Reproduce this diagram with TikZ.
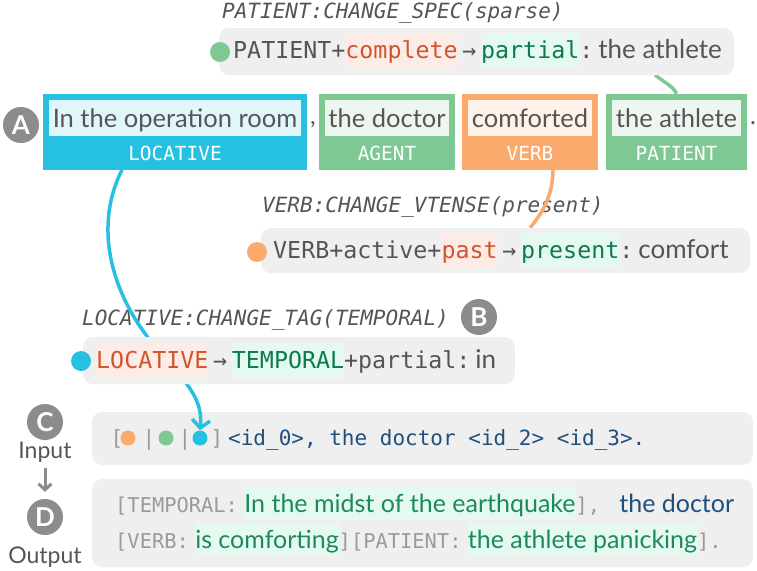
\documentclass[tikz,border=0pt]{standalone}
\usepackage{fontspec}
\setmainfont{Lato}
\setmonofont{DejaVu Sans Mono}
\usetikzlibrary{arrows.meta}

\definecolor{locc}{HTML}{26C1E1}
\definecolor{agentc}{HTML}{7EC894}
\definecolor{verbc}{HTML}{F9AA6C}
\definecolor{boxgray}{HTML}{EFEFEF}
\definecolor{txtgray}{HTML}{555555}
\definecolor{badgegray}{HTML}{8C8C8C}
\definecolor{oldred}{HTML}{D1542E}
\definecolor{oldbg}{HTML}{FDECE6}
\definecolor{newgreen}{HTML}{0E7A52}
\definecolor{newbg}{HTML}{E4F9EF}
\definecolor{outgreen}{HTML}{1E8A5C}
\definecolor{idblue}{HTML}{1E4F7D}
\definecolor{brkgray}{HTML}{9A9A9A}

% highlighted pieces of text
\newcommand{\hl}[3]{{\setlength{\fboxsep}{0pt}\colorbox{#1}{\rule[-10pt]{0pt}{35pt}\textcolor{#2}{#3}}}}
\newcommand{\hlo}[1]{{\setlength{\fboxsep}{0pt}\colorbox{newbg}{\rule[-8pt]{0pt}{33pt}\textcolor{outgreen}{#1}}}}
\newcommand{\brk}[1]{{\fontsize{20.4}{25}\selectfont\ttfamily\color{brkgray}#1}}
\newcommand{\sans}[1]{{\fontsize{26}{30}\selectfont\rmfamily #1}}
\newcommand{\toarr}{\makebox[23.5pt]{→}}

\pgfdeclarelayer{back}
\pgfdeclarelayer{lines}
\pgfsetlayers{back,lines,main}

\tikzset{
  grybox/.style={fill=boxgray, rounded corners=10pt, inner sep=0pt},
  spec/.style={anchor=base west, inner sep=0pt, text=txtgray, font=\fontsize{23.3}{28}\selectfont\ttfamily},
  optitle/.style={anchor=base west, inner sep=0pt, text=txtgray, font=\fontsize{21}{25}\selectfont\ttfamily\itshape},
  rolebox/.style={inner sep=0pt, minimum height=76pt},
  tokbox/.style={inner sep=0pt, minimum height=36pt, text height=20pt, text depth=2pt, text=txtgray, font=\fontsize{25.5}{30}\selectfont},
  rolelab/.style={anchor=base, inner sep=0pt, text=white, font=\fontsize{19.4}{22}\selectfont\ttfamily},
  badge/.style={circle, fill=badgegray, text=white, minimum size=36pt, inner sep=0pt, font=\fontsize{26}{26}\selectfont\bfseries},
  dot/.style={circle, inner sep=0pt, minimum size=20pt},
  indot/.style={circle, inner sep=0pt, minimum size=15pt},
  intxt/.style={anchor=base west, inner sep=0pt, font=\fontsize{21}{25}\selectfont\ttfamily},
  outtxt/.style={anchor=base west, inner sep=0pt, font=\fontsize{25}{30}\selectfont},
  sidelab/.style={anchor=base, inner sep=0pt, text=txtgray, font=\fontsize{23}{28}\selectfont},
  conn/.style={line width=3.5pt}
}

\begin{document}
\begin{tikzpicture}[x=1pt, y=-1pt]
\useasboundingbox (0,0) rectangle (757,570);

% A: the sentence with its roles
\node[badge] (A) at (21,125) {A};
\foreach \nm/\xl/\xr/\col/\tok/\lab in {loc/43/307/locc/In the operation room/LOCATIVE,
    agent/319/455/agentc/the doctor/AGENT, verb/462/598/verbc/comforted/VERB,
    pat/606/747/agentc/the athlete/PATIENT}{
  \pgfmathsetmacro\w{\xr-\xl}
  \pgfmathsetmacro\wi{\xr-\xl-12}
  \pgfmathsetmacro\m{(\xl+\xr)/2}
  \node[rolebox, fill=\col, minimum width=\w pt] (\nm) at (\m,132) {};
  \node[tokbox, fill=\col!14, minimum width=\wi pt] (\nm tok) at (\m,118) {\tok};
  \node[rolelab] (\nm lab) at (\m,160) {\lab};
}
\node[sidelab, font=\fontsize{25}{30}\selectfont] (comma) at (313,124) {,};
\node[sidelab, font=\fontsize{25}{30}\selectfont] (stop) at (753,124) {.};

% the three perturbations
\begin{pgfonlayer}{back}
  \node[optitle] (op1) at (222,18) {PATIENT:CHANGE\_SPEC(sparse)};
  \node[optitle] (op2) at (262,212) {VERB:CHANGE\_VTENSE(present)};
  \node[optitle] (op3) at (82,325) {LOCATIVE:CHANGE\_TAG(TEMPORAL)};
  \node[grybox, minimum width=661pt, minimum height=53pt] (inbox) at (422.5,438.5) {};
\end{pgfonlayer}

\node[grybox, minimum width=515pt, minimum height=47pt] (spec1) at (476.5,51.5) {};
\node[dot, fill=agentc] (dot1) at (220,52) {};
\node[spec] (spec1txt) at (233,58)
  {PATIENT+\hl{oldbg}{oldred}{complete}\toarr\hl{newbg}{newgreen}{partial}:\hspace{5pt}\sans{the athlete}};

\node[grybox, minimum width=489pt, minimum height=45pt] (spec2) at (505.5,250.5) {};
\node[dot, fill=verbc] (dot2) at (257,252) {};
\node[spec] (spec2txt) at (273,258)
  {VERB+active+\hl{oldbg}{oldred}{past}\toarr\hl{newbg}{newgreen}{present}:\hspace{5pt}\sans{comfort}};

\node[grybox, minimum width=432pt, minimum height=47pt] (spec3) at (299,360.5) {};
\node[dot, fill=locc] (dot3) at (81,361) {};
\node[spec] (spec3txt) at (96,368)
  {\hl{oldbg}{oldred}{LOCATIVE}\toarr\hl{newbg}{newgreen}{TEMPORAL}+partial:\hspace{5pt}\sans{in}};
\node[badge] (B) at (479,317) {B};

% C: input
\node[badge] (C) at (45,422) {C};
\node[sidelab] (inlab) at (45,458) {Input};
\foreach \x/\s in {117/{[}, 149/{|}, 185/{|}, 217/{]}}
  \node[intxt, anchor=base, text=brkgray] at (\x,445) {\s};
\node[indot, fill=verbc] (inverb) at (128,438) {};
\node[indot, fill=agentc] (inpat) at (166,438) {};
\node[indot, fill=locc] (inloc) at (200,438) {};
\node[intxt, text=idblue] (intext) at (228,445)
  {<id\_0>, the doctor <id\_2> <id\_3>.};

% D: output
\node[grybox, minimum width=661pt, minimum height=88pt] (outbox) at (422.5,523) {};
\node[badge] (D) at (45,517) {D};
\node[sidelab] (outlab) at (45,563) {Output};
\node[outtxt] (out1) at (115,512)
  {\brk{[TEMPORAL:}\ \hlo{In the midst of the earthquake}\brk{],}\ \ \ \textcolor{idblue}{the doctor}};
\node[outtxt] (out2) at (115,548)
  {\brk{[VERB:}\ \hlo{is comforting}\brk{][PATIENT:}\ \hlo{the athlete panicking}\brk{].}};
\draw[badgegray, line width=3pt, -{Straight Barb[length=6pt,width=13pt]}]
  ([yshift=-6pt]inlab.south) -- ([yshift=7pt]D.north);

% connectors
\coordinate (patpin) at (655,75);
\coordinate (verbpin) at (553,170);
\coordinate (vtpin) at (530,228);
\coordinate (locpin) at (122,170);
\begin{pgfonlayer}{lines}
  \draw[conn, agentc] (patpin) .. controls (664,82) and (674,87) .. (pat.north);
  \draw[conn, verbc] (verbpin) .. controls (553,192) and (545,210) .. (vtpin);
  \draw[conn, locc, -{Straight Barb[length=8pt,width=18pt]}] (locpin)
    .. controls (104,205) and (100,255) .. (130,310)
    .. controls (160,365) and (205,385) .. (inloc.north);
\end{pgfonlayer}
\end{tikzpicture}
\end{document}
